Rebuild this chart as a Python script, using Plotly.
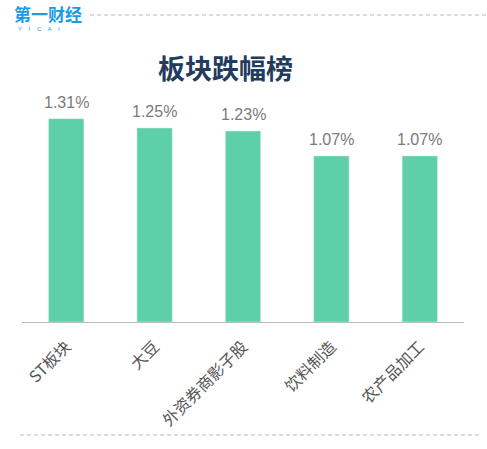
import plotly.graph_objects as go

categories = ["ST板块", "大豆", "外资券商影子股", "饮料制造", "农产品加工"]
values = [1.31, 1.25, 1.23, 1.07, 1.07]
labels = ["1.31%", "1.25%", "1.23%", "1.07%", "1.07%"]

T, B, H = 100, 127, 222  # plot top margin, bottom margin, plot height in px

def py(ypix):
    return 1 + (T - ypix) / H

fig = go.Figure(go.Bar(
    x=categories, y=values,
    marker=dict(color="#5dd0a9"), width=0.4, cliponaxis=False, hoverinfo="skip",
))

value_annotations = [
    dict(x=c, y=v, text=t, xref="x", yref="y", yanchor="bottom", yshift=6, showarrow=False,
         font=dict(size=16, color="#7a7a7a", family="Liberation Sans, Arial"))
    for c, v, t in zip(categories, values, labels)
]

fig.update_layout(
    width=487, height=449,
    margin=dict(l=22, r=23, t=T, b=B),
    paper_bgcolor="white", plot_bgcolor="white",
    showlegend=False,
    font=dict(family="Noto Sans CJK SC, sans-serif"),
    xaxis=dict(showline=True, linecolor="#bbbbbb", linewidth=1, ticks="",
               tickangle=-45, tickfont=dict(size=16, color="#555555"),
               showgrid=False, automargin=False, ticklabelstandoff=8),
    yaxis=dict(visible=False, range=[0, 1.43], showgrid=False, automargin=False),
    shapes=[
        dict(type="line", xref="paper", yref="paper", x0=(90-22)/442, x1=(487-22)/442, y0=py(15), y1=py(15),
             line=dict(color="#bbbbbb", width=1, dash="4px,3px")),
        dict(type="line", xref="paper", yref="paper", x0=(20-22)/442, x1=(480-22)/442, y0=py(435), y1=py(435),
             line=dict(color="#bbbbbb", width=1, dash="4px,3px")),
    ],
    annotations=value_annotations + [
        dict(text="<b>板块跌幅榜</b>", xref="paper", yref="paper", x=(225-22)/442, y=py(68),
             yanchor="middle", showarrow=False,
             font=dict(size=27, color="#233b5c", family="Noto Sans CJK SC")),
        dict(text="<b>第一财经</b>", xref="paper", yref="paper", x=(12-22)/442, y=py(14),
             xanchor="left", yanchor="middle", showarrow=False,
             font=dict(size=17, color="#1a9be6", family="Noto Sans CJK SC")),
        dict(text="Y    I    C    A    I", xref="paper", yref="paper", x=(16-22)/442, y=py(29),
             xanchor="left", yanchor="middle", showarrow=False,
             font=dict(size=6, color="#1a9be6", family="Liberation Sans")),
    ],
)

fig.write_html("out.html", config={"displayModeBar": False},
               post_script="document.body.style.margin='0';document.body.style.overflow='hidden';")
